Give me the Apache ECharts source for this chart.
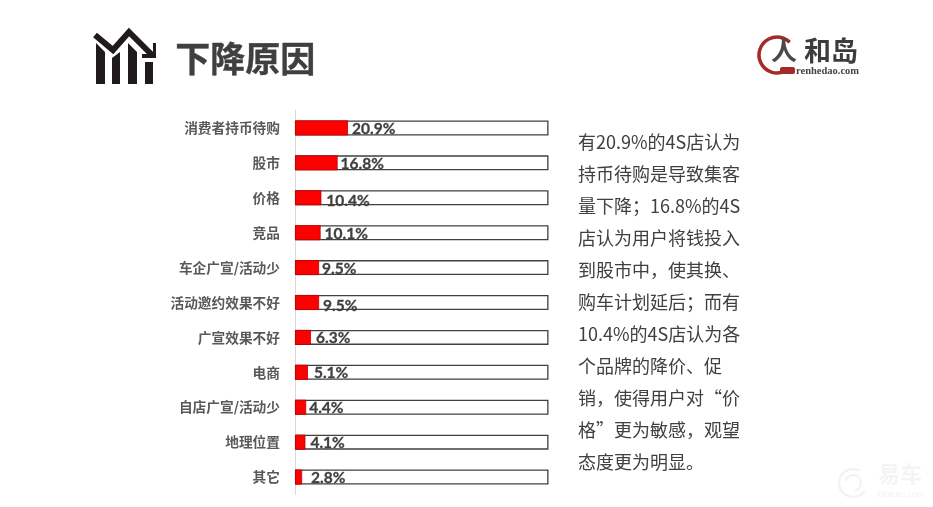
<!DOCTYPE html>
<html><head><meta charset="utf-8">
<style>html,body{margin:0;padding:0;background:#fff}#c{width:933px;height:507px}</style>
<script src="https://cdn.jsdelivr.net/npm/echarts@6/dist/echarts.min.js"></script>
</head><body><div id="c"></div>
<script>
const categories = ['消费者持币待购','股市','价格','竞品','车企广宣/活动少','活动邀约效果不好','广宣效果不好','电商','自店广宣/活动少','地理位置','其它'];
const values = [20.9,16.8,10.4,10.1,9.5,9.5,6.3,5.1,4.4,4.1,2.8];
const fullScale = 100;
const labelNudgeX = [4,3,5,4,3,4,5,6,3,5,9];
const labelNudgeY = [1,1,3.5,1,1,3.5,1,1,1,1,1];
const titleText = '下降原因';
const noteLines = ['有20.9%的4S店认为','持币待购是导致集客','量下降；16.8%的4S','店认为用户将钱投入','到股市中，使其换、','购车计划延后；而有','10.4%的4S店认为各','个品牌的降价、促','销，使得用户对“价','格”更为敏感，观望','态度更为明显。'];

const cjk = '"Noto Sans CJK SC","Noto Sans",sans-serif';
const iconColor = '#1f1a1c';
const graphics = [
  {type:'text',left:175,top:41,style:{text:titleText,font:'bold 35px '+cjk,fill:'#3f3f3f',stroke:'#3f3f3f',lineWidth:0.4}},
  {type:'polyline',shape:{points:[[95,35],[113,50],[129,32],[152,55]]},style:{stroke:iconColor,lineWidth:6,fill:'none'}},
  {type:'polygon',shape:{points:[[153,43],[156,43],[156,58],[142,58],[142,54],[153,54]]},style:{fill:iconColor}},
  {type:'polygon',shape:{points:[[96,43],[105,52],[105,84],[96,84]]},style:{fill:iconColor}},
  {type:'polygon',shape:{points:[[112,58],[120,52],[120,84],[112,84]]},style:{fill:iconColor}},
  {type:'polygon',shape:{points:[[128,43],[137,52],[137,84],[128,84]]},style:{fill:iconColor}},
  {type:'rect',shape:{x:145,y:62,width:8,height:22},style:{fill:iconColor}},
  {type:'arc',shape:{cx:777,cy:55,r:18,startAngle:1.1,endAngle:5.5,clockwise:true},style:{stroke:'#a52a2a',lineWidth:3.5,fill:'none'}},
  {type:'rect',shape:{x:780,y:67,width:15,height:7,r:2},style:{fill:'#a52a2a'}},
  {type:'text',left:771,top:37,style:{text:'人',font:'bold 26px '+cjk,fill:'#4a4a4a'}},
  {type:'text',left:804,top:37,style:{text:'和岛',font:'bold 27px '+cjk,fill:'#3c3c3c',letterSpacing:3}},
  {type:'text',left:796,top:66,style:{text:'renhedao.com',font:'bold 10.5px "Liberation Serif",serif',fill:'#444'}},
  {type:'text',left:878,top:463,style:{text:'易车',font:'bold 22px '+cjk,fill:'#f4f4f4'}},
  {type:'text',left:878,top:490,style:{text:'bitauto.com',font:'9px "Liberation Sans",sans-serif',fill:'#f2f2f2'}},
  {type:'arc',shape:{cx:853,cy:483,r:14,startAngle:0.6,endAngle:5.2,clockwise:true},style:{stroke:'#f3f3f3',lineWidth:2.5,fill:'none'}},
  {type:'arc',shape:{cx:853,cy:483,r:8,startAngle:3.4,endAngle:1.4,clockwise:true},style:{stroke:'#f3f3f3',lineWidth:2,fill:'none'}},
  {type:'text',left:578,top:126,style:{text:noteLines.join('\n'),font:'18px '+cjk,lineHeight:32,fill:'#404040'}}
];

const chart = echarts.init(document.getElementById('c'),null,{renderer:'canvas'});
chart.setOption({
  animation:false,
  backgroundColor:'#fff',
  grid:{left:295,top:110.5,width:253.5,height:384,containLabel:false},
  xAxis:{type:'value',min:0,max:fullScale,show:false},
  yAxis:{type:'category',inverse:true,data:categories,
    axisTick:{show:false},
    axisLine:{show:true,lineStyle:{color:'#d9d9d9',width:1}},
    axisLabel:{color:'#595959',fontSize:13.7,fontWeight:'bold',fontFamily:cjk,margin:15,interval:0}},
  series:[
    {type:'bar',name:'总量',silent:true,barWidth:15,barGap:'-100%',
     data:categories.map(()=>fullScale),
     itemStyle:{color:'#fff',borderColor:'#404040',borderWidth:1.3},z:1},
    {type:'bar',name:'占比',barWidth:15,barGap:'-100%',
     data:values.map((v,i)=>({value:v,label:{offset:[labelNudgeX[i],labelNudgeY[i]]}})),
     itemStyle:{color:'#ff0000',borderColor:'#c00000',borderWidth:0.8},z:2,
     label:{show:true,position:'right',distance:0,formatter:p=>p.value.toFixed(1)+'%',
       color:'#404040',fontSize:15.5,fontWeight:'bold',fontFamily:'Lato,"Liberation Sans",sans-serif',
       textBorderColor:'#404040',textBorderWidth:0.3}}
  ],
  graphic:graphics
});
</script></body></html>
